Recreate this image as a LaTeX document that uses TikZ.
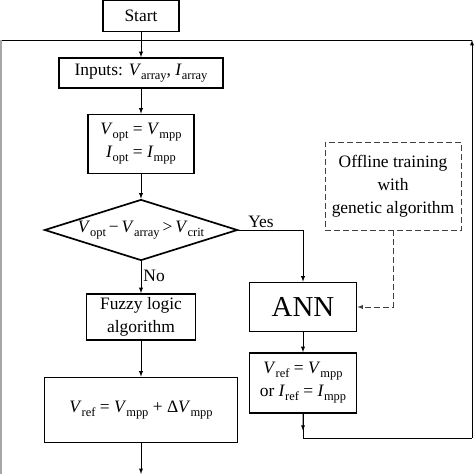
\documentclass[tikz,border=0pt]{standalone}
\usepackage{fontspec}
\setmainfont{Liberation Serif}
\usepackage{tikz}
\usetikzlibrary{arrows}
\usetikzlibrary{positioning}
\usetikzlibrary{shapes.geometric}
\usetikzlibrary{calc}
\tikzset{>=latex}
\tikzset{
    blk/.style={draw, line width=1.7pt, inner sep=0pt, align=center,
        font=\fontsize{17.5}{23}\selectfont},
    dec/.style={draw, diamond, aspect=3.2, line width=1.7pt, inner sep=0pt,
        font=\fontsize{17.5}{23}\selectfont},
    flow/.style={->, line width=0.9pt},
    lbl/.style={font=\fontsize{17.5}{20}\selectfont, inner sep=2pt}
}
\newcommand{\vsub}[2]{\textit{#1}\raisebox{-0.5ex}{\fontsize{12.5}{12.5}\selectfont #2}}

\begin{document}
\begin{tikzpicture}[x=1bp, y=-1bp]
            \useasboundingbox (0,0) rectangle (474,474);
            \node [blk, minimum width=76bp, minimum height=31bp] (start) at (141,16) {Start};
            \node [blk, minimum width=164bp, minimum height=30bp] (inp) at (141,73)
                {Inputs: \vsub{V}{array}, \vsub{I}{array}};
            \node [blk, minimum width=106bp, minimum height=59bp] (opt) at (141,144)
                {\vsub{V}{opt} = \vsub{V}{mpp}\\ \vsub{I}{opt} = \vsub{I}{mpp}};
            \node [dec, minimum width=193bp, minimum height=61bp] (cond) at (141,230)
                {\vsub{V}{opt}\,−\,\vsub{V}{array}\,>\,\vsub{V}{crit}};
            \node [blk, minimum width=109bp, minimum height=46bp] (fuzzy) at (141,317)
                {Fuzzy logic\\ algorithm};
            \node [blk, minimum width=193bp, minimum height=65bp] (vref) at (141,410)
                {\vsub{V}{ref} = \vsub{V}{mpp} + Δ\vsub{V}{mpp}};
            \node [blk, minimum width=107bp, minimum height=49bp, font=\fontsize{29}{32}\selectfont] (ann) at (303,307) {ANN};
            \node [blk, minimum width=107bp, minimum height=60bp] (annref) at (303,383)
                {\vsub{V}{ref} = \vsub{V}{mpp}\\ or \vsub{I}{ref} = \vsub{I}{mpp}};
            \node [blk, black!75, text=black, dash pattern=on 6pt off 3pt, line width=0.9pt,
                minimum width=136bp, minimum height=88bp] (train) at (393,186)
                {Offline training\\ with\\ genetic algorithm};
            \coordinate (out) at (141,474);
            \coordinate (turn) at (303,438);
            \coordinate (rbot) at (472,438);
            \coordinate (rtop) at (472,40);
            \coordinate (ltop) at (0,40);
            \draw [flow] (start)--(inp);
            \draw [flow] (inp)--(opt);
            \draw [flow] (opt)--(cond);
            \draw [flow] (cond)--(fuzzy)
                node [lbl, pos=0.45, right] {No};
            \draw [flow] (fuzzy)--(vref);
            \draw [flow] (vref)--(out);
            \draw [flow] (cond.east)--(ann.north |- cond.east)
                node [lbl, pos=0.35, above] {Yes} --(ann.north);
            \draw [flow] (ann)--(annref);
            \draw [flow] (annref.south)--($(annref.south)!0.7!(turn)$);
            \draw [line width=0.9pt] (annref.south)--(turn)--(rbot);
            \draw [flow] (rbot)--(rtop);
            \draw [line width=0.9pt] (rtop)--(ltop);
            \draw [->, black!75, dash pattern=on 6pt off 3pt, line width=0.9pt]
                (train.south)--(train.south |- ann.east)--(ann.east);
            \draw [black!35, line width=1.5pt] (1,40)--(1,474);
        \end{tikzpicture}
\end{document}
